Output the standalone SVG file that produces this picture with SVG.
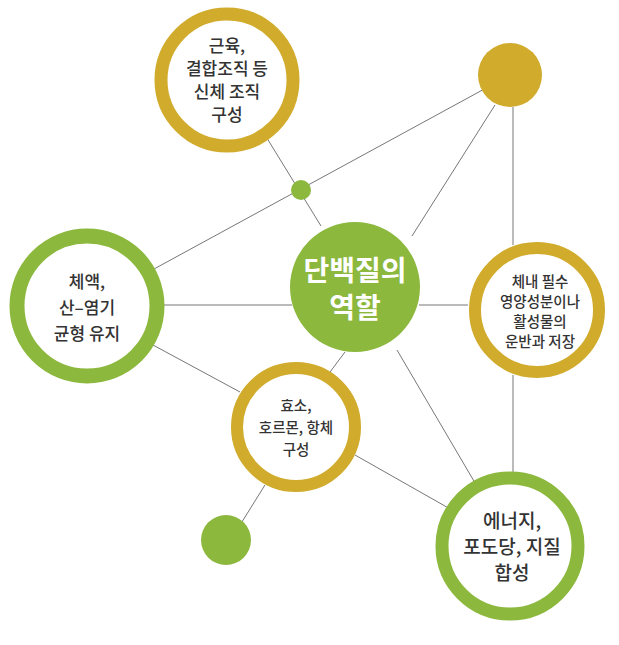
<svg xmlns="http://www.w3.org/2000/svg" width="619" height="645" viewBox="0 0 619 645">
<style>
.g{fill:none;stroke:#8cb83e}
.y{fill:none;stroke:#d1ab2c}
.t{font-family:"Noto Sans CJK KR","Noto Sans",sans-serif;fill:#333;text-anchor:middle;font-weight:500}
#conn line{stroke:#777;stroke-width:1}
</style>
<rect width="619" height="645" fill="#fff"/>
<g id="conn">
<line x1="510" y1="75" x2="143" y2="275"/>
<line x1="265" y1="135" x2="321" y2="226"/>
<line x1="495" y1="105" x2="412" y2="236"/>
<line x1="513" y1="107" x2="513" y2="245"/>
<line x1="513" y1="375" x2="513" y2="475"/>
<line x1="150" y1="305" x2="292" y2="305"/>
<line x1="419" y1="305" x2="468" y2="305"/>
<line x1="140" y1="338" x2="240" y2="392"/>
<line x1="345" y1="352" x2="330" y2="372"/>
<line x1="397" y1="350" x2="478" y2="488"/>
<line x1="355" y1="455" x2="452" y2="510"/>
<line x1="265" y1="485" x2="240" y2="525"/>
</g>
<g id="gold-dot"><circle cx="510" cy="75" r="32" fill="#d1ab2c"/></g>
<g id="small-dot"><circle cx="301" cy="190" r="10" fill="#8cb83e"/></g>
<g id="bottom-dot"><circle cx="226" cy="540" r="25" fill="#8cb83e"/></g>
<g id="center"><circle cx="355" cy="287" r="65" fill="#8cb83e"/>
<text class="t" x="355" y="281" font-size="28" style="fill:#fff;font-weight:700">단백질의</text>
<text class="t" x="355" y="318" font-size="28" style="fill:#fff;font-weight:700">역할</text></g>
<g id="muscle"><circle cx="227" cy="80" r="66" class="y" stroke-width="13" style="fill:#fff"/>
<text class="t" font-size="17"><tspan x="227" y="52">근육,</tspan><tspan x="227" y="75">결합조직 등</tspan><tspan x="227" y="98">신체 조직</tspan><tspan x="227" y="121">구성</tspan></text></g>
<g id="fluid"><circle cx="87" cy="306" r="70" class="g" stroke-width="15" style="fill:#fff"/>
<text class="t" font-size="17"><tspan x="87" y="288">체액,</tspan><tspan x="87" y="314">산–염기</tspan><tspan x="87" y="340">균형 유지</tspan></text></g>
<g id="transport"><circle cx="537" cy="310" r="62" class="y" stroke-width="12" style="fill:#fff"/>
<text class="t" font-size="14.5"><tspan x="540" y="287">체내 필수</tspan><tspan x="540" y="307">영양성분이나</tspan><tspan x="540" y="327">활성물의</tspan><tspan x="540" y="347">운반과 저장</tspan></text></g>
<g id="enzyme"><circle cx="296" cy="427" r="59" class="y" stroke-width="12" style="fill:#fff"/>
<text class="t" font-size="14.5"><tspan x="296" y="411">효소,</tspan><tspan x="296" y="433">호르몬, 항체</tspan><tspan x="296" y="455">구성</tspan></text></g>
<g id="energy"><circle cx="510" cy="546" r="68" class="g" stroke-width="13" style="fill:#fff"/>
<text class="t" font-size="19"><tspan x="512" y="528">에너지,</tspan><tspan x="512" y="554">포도당, 지질</tspan><tspan x="512" y="580">합성</tspan></text></g>
</svg>
